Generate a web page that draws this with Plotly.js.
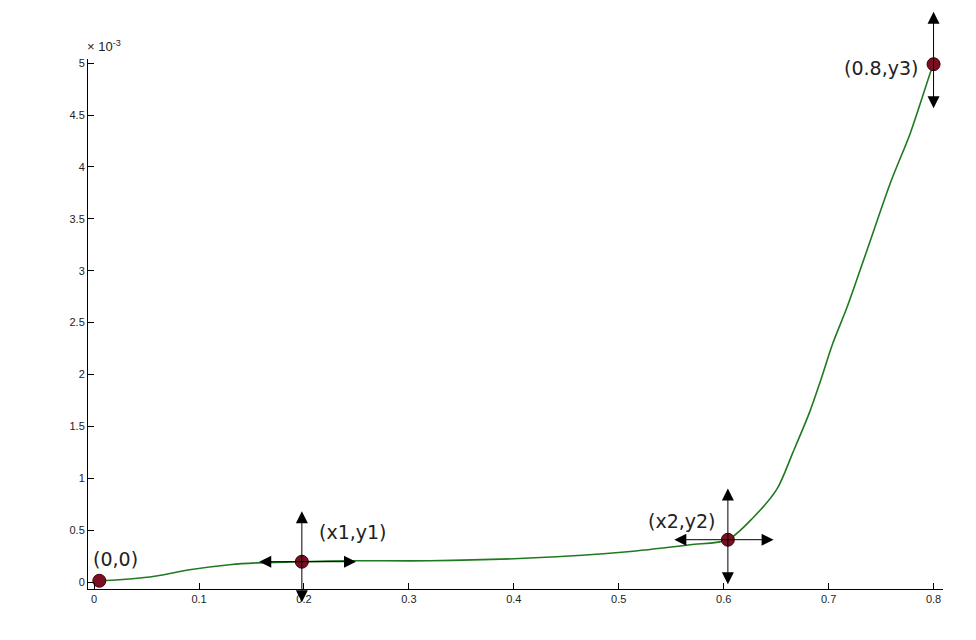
<!DOCTYPE html>
<html>
<head>
<meta charset="utf-8">
<script src="https://cdn.plot.ly/plotly-3.0.1.min.js"></script>
<style>html,body{margin:0;padding:0;background:#fff;}#chart{width:976px;height:640px;}</style>
</head>
<body>
<div id="chart"></div>
<script>
// curve (y values in units of 1e-3)
const curveX = [0.005, 0.024, 0.053, 0.091, 0.129, 0.155, 0.198, 0.244, 0.32, 0.415, 0.511, 0.568, 0.604, 0.628, 0.651, 0.666, 0.682, 0.692, 0.704, 0.718, 0.737, 0.759, 0.778, 0.797, 0.8];
const curveY = [0.0125, 0.022, 0.048, 0.118, 0.167, 0.185, 0.196, 0.205, 0.205, 0.231, 0.295, 0.359, 0.408, 0.62, 0.9, 1.25, 1.64, 1.93, 2.3, 2.66, 3.21, 3.85, 4.33, 4.91, 4.99];
const yScale = 1e-3;

// control points
const pointX = [0.005, 0.198, 0.604, 0.8];
const pointY = [0.0125, 0.196, 0.408, 4.99];
const pointLabels = ['(0,0)', '(x1,y1)', '(x2,y2)', '(0.8,y3)'];
const labelX = [0.0206, 0.2466, 0.5604, 0.750];
const labelY = [0.225, 0.484, 0.590, 4.955];

// arrows: from point index to tip
const arrowFrom = [1, 1, 1, 1, 2, 2, 2, 2, 3, 3];
const arrowTipX = [0.198, 0.198, 0.156, 0.251, 0.604, 0.604, 0.5515, 0.649, 0.8, 0.8];
const arrowTipY = [0.697, -0.21, 0.196, 0.196, 0.915, -0.036, 0.408, 0.408, 5.51, 4.55];

// ticks
const xTicks = [0, 0.1, 0.2, 0.3, 0.4, 0.5, 0.6, 0.7, 0.8];
const xTickText = ['0', '0.1', '0.2', '0.3', '0.4', '0.5', '0.6', '0.7', '0.8'];
const yTicks = [0, 0.5, 1, 1.5, 2, 2.5, 3, 3.5, 4, 4.5, 5];
const yTickText = ['0', '0.5', '1', '1.5', '2', '2.5', '3', '3.5', '4', '4.5', '5'];

const sc = v => v * yScale;

const traces = [
  {
    x: curveX, y: curveY.map(sc), type: 'scatter', mode: 'lines',
    line: {color: '#1f7a1f', width: 1.6, shape: 'spline', smoothing: 0.8}, hoverinfo: 'skip', showlegend: false
  },
  {
    x: pointX, y: pointY.map(sc), type: 'scatter', mode: 'markers',
    marker: {color: '#7a0f22', size: 13, line: {color: '#3a0010', width: 1}},
    cliponaxis: false, hoverinfo: 'skip', showlegend: false
  }
];

const annotations = [];
for (let i = 0; i < arrowFrom.length; i++) {
  const p = arrowFrom[i];
  annotations.push({
    x: pointX[p], y: sc(pointY[p]), xref: 'x', yref: 'y',
    ax: arrowTipX[i], ay: sc(arrowTipY[i]), axref: 'x', ayref: 'y',
    text: '', showarrow: true, arrowside: 'start',
    startarrowhead: 2, startarrowsize: 2.4, arrowwidth: 1, arrowcolor: '#000',
    standoff: 0, startstandoff: 0
  });
}
for (let i = 0; i < pointLabels.length; i++) {
  annotations.push({
    x: labelX[i], y: sc(labelY[i]), xref: 'x', yref: 'y',
    text: pointLabels[i], showarrow: false, xanchor: 'center', yanchor: 'middle',
    font: {family: 'DejaVu Sans', size: 19, color: '#222'}
  });
}
annotations.push({
  x: 0, y: 1, xref: 'paper', yref: 'paper', xanchor: 'left', yanchor: 'bottom',
  xshift: -3, yshift: 3,
  text: '\u00d7 10<sup>-3</sup>', showarrow: false,
  font: {family: 'Liberation Sans, Arial', size: 13, color: '#222'}
});

const layout = {
  width: 976, height: 640,
  margin: {l: 88, r: 33, t: 59, b: 51, pad: 0},
  paper_bgcolor: '#fff', plot_bgcolor: '#fff',
  showlegend: false,
  font: {family: 'Liberation Sans, Arial', size: 11, color: '#222'},
  xaxis: {
    range: [-0.0058, 0.809], showgrid: false, zeroline: false,
    showline: true, linecolor: '#000', linewidth: 1, mirror: false,
    ticks: 'inside', ticklen: 6, tickcolor: '#000', tickwidth: 1,
    tickmode: 'array', tickvals: xTicks, ticktext: xTickText,
    tickfont: {size: 11, color: '#222'}
  },
  yaxis: {
    range: [sc(-0.067), sc(5.04)], showgrid: false, zeroline: false,
    showline: true, linecolor: '#000', linewidth: 1, mirror: false,
    ticks: 'inside', ticklen: 6, tickcolor: '#000', tickwidth: 1,
    tickmode: 'array', tickvals: yTicks.map(sc), ticktext: yTickText,
    tickfont: {size: 11, color: '#222'}
  },
  annotations: annotations
};

Plotly.newPlot('chart', traces, layout, {displayModeBar: false, staticPlot: true});
</script>
</body>
</html>
